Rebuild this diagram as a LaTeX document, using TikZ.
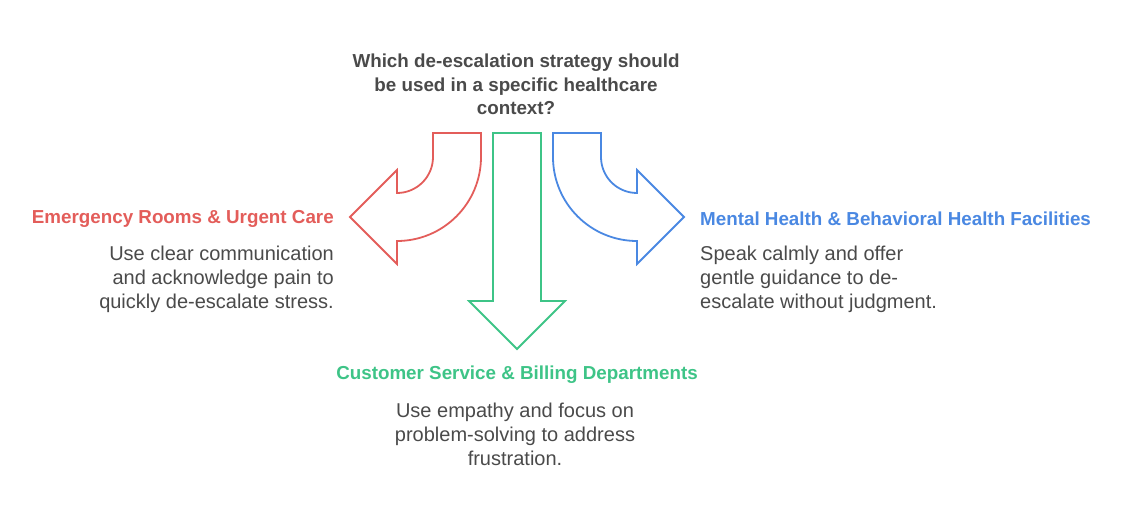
\documentclass[tikz,border=0pt]{standalone}
\usepackage{fontspec}
\setmainfont{Liberation Sans}
\definecolor{erred}{HTML}{E35D5A}
\definecolor{csgreen}{HTML}{3EC487}
\definecolor{mhblue}{HTML}{4A88E2}
\definecolor{txtgray}{HTML}{4A4A4A}
\begin{document}
\begin{tikzpicture}[x=1pt, y=1pt, line join=miter,
    every node/.style={inner sep=0pt, text=txtgray},
    headtxt/.style={font=\fontsize{18.8}{23.5}\selectfont\bfseries},
    bodytxt/.style={font=\fontsize{20}{24}\selectfont}]
  \useasboundingbox (0,0) rectangle (1130,-518);
  % arrows
  \draw[erred,line width=1.8pt] (433,-133) -- (481,-133) -- (481,-157)
    arc[start angle=0, end angle=-90, radius=84] -- (397,-264) -- (350,-217)
    -- (397,-170) -- (397,-193) arc[start angle=-90, end angle=0, radius=36] -- cycle;
  \draw[csgreen,line width=1.8pt] (493,-133) -- (541,-133) -- (541,-301) -- (565,-301)
    -- (517,-349) -- (469,-301) -- (493,-301) -- cycle;
  \draw[mhblue,line width=1.8pt] (601,-133) -- (553,-133) -- (553,-157)
    arc[start angle=180, end angle=270, radius=84] -- (637,-264) -- (684,-217)
    -- (637,-170) -- (637,-193) arc[start angle=270, end angle=180, radius=36] -- cycle;
  % labels
  \node[headtxt,align=center] (title) at (516,-84.5)
    {Which de-escalation strategy should\\be used in a specific healthcare\\context?};
  \node[headtxt,text=erred,anchor=east] (erhead) at (334,-219) {Emergency Rooms \& Urgent Care};
  \node[bodytxt,align=right,anchor=east] (ertext) at (334,-279.5)
    {Use clear communication\\and acknowledge pain to\\quickly de-escalate stress.};
  \node[headtxt,text=mhblue,anchor=west] (mhhead) at (700,-219) {Mental Health \& Behavioral Health Facilities};
  \node[bodytxt,align=left,anchor=west] (mhtext) at (700,-279.5)
    {Speak calmly and offer\\gentle guidance to de-\\escalate without judgment.};
  \node[headtxt,text=csgreen] (cshead) at (517,-375) {Customer Service \& Billing Departments};
  \node[bodytxt,align=center] (cstext) at (515,-434.5)
    {Use empathy and focus on\\problem-solving to address\\frustration.};
\end{tikzpicture}
\end{document}
